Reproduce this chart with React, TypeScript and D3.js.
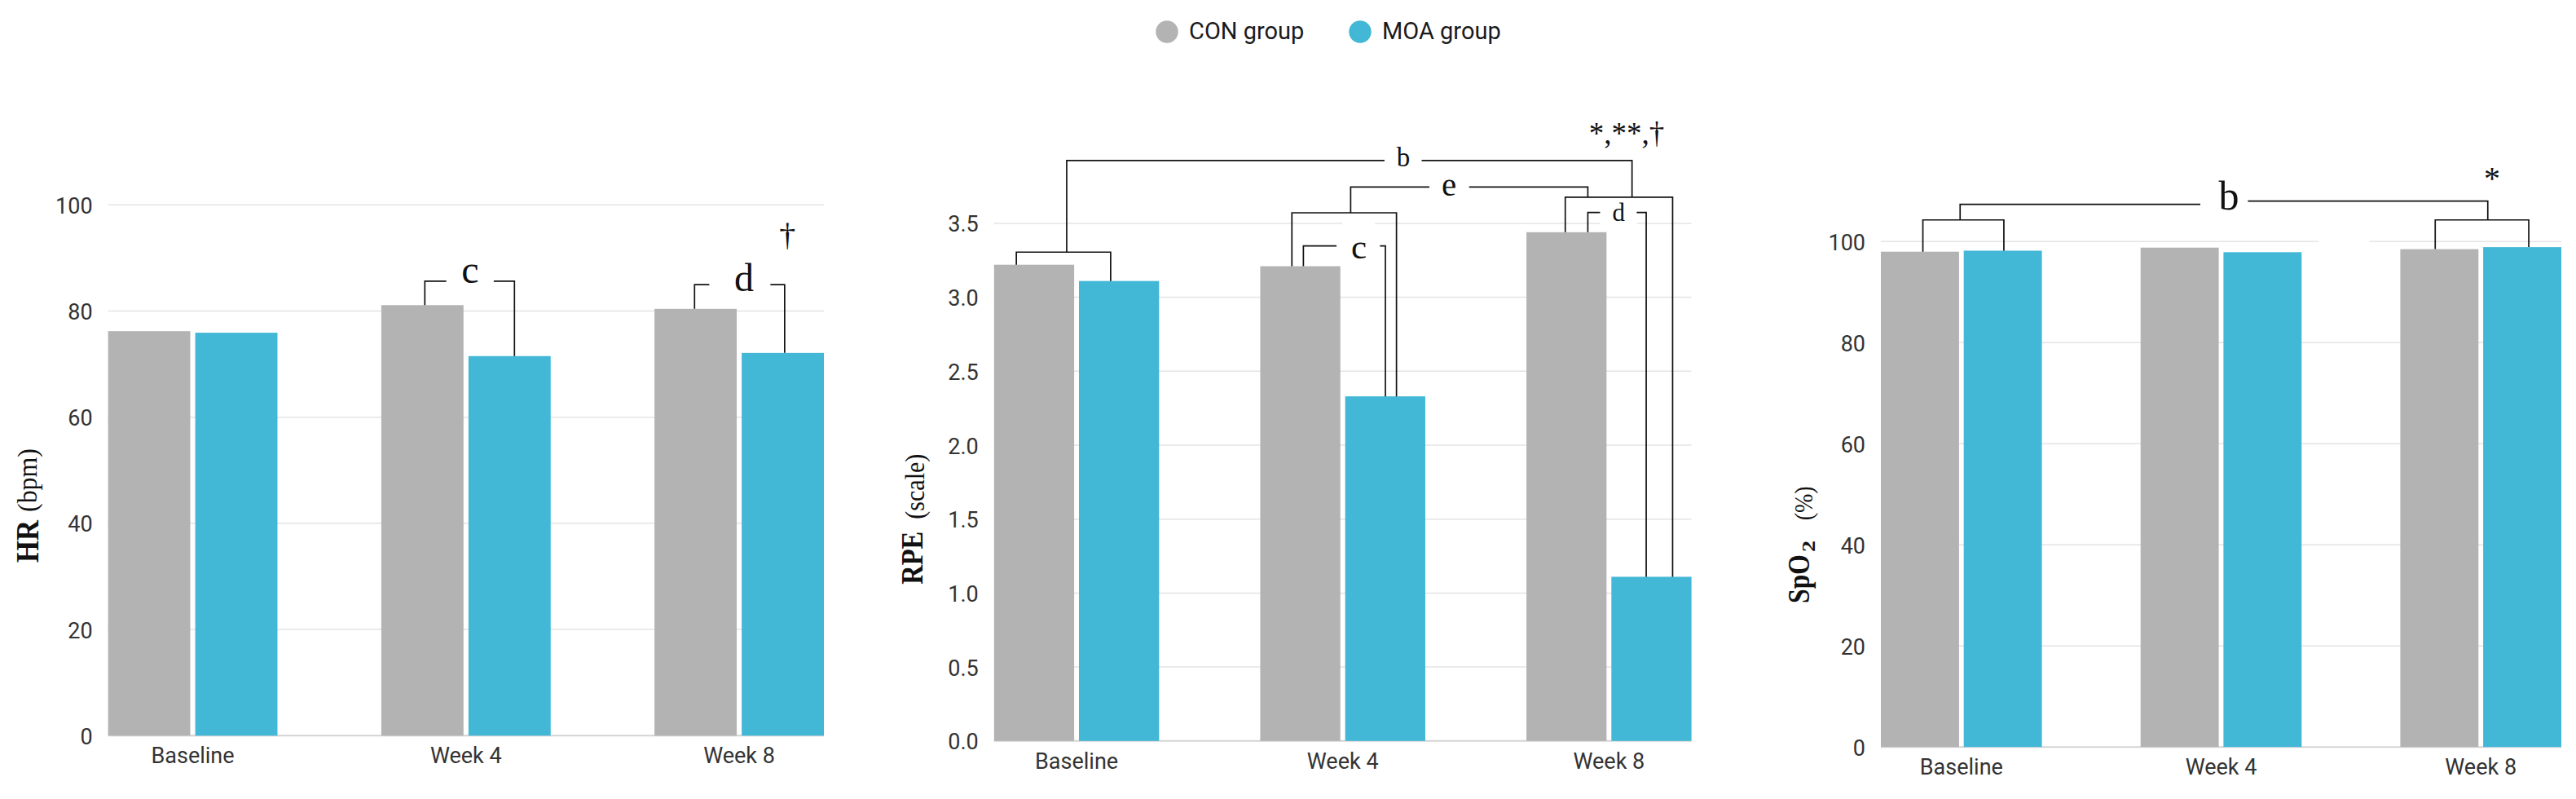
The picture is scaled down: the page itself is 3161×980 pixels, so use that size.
import React from "react";
import * as d3 from "d3";

// ---------- data ----------
const categories = ["Baseline", "Week 4", "Week 8"];
const groups = ["CON group", "MOA group"];
const groupColors = ["#b3b3b3", "#42b7d6"];

const hrCON = [76.2, 81.1, 80.4];
const hrMOA = [75.9, 71.5, 72.1];
const rpeCON = [3.22, 3.21, 3.44];
const rpeMOA = [3.11, 2.33, 1.11];
const spoCON = [98.0, 98.8, 98.5];
const spoMOA = [98.2, 97.9, 98.9];

const hrTicks = [0, 20, 40, 60, 80, 100];
const rpeTicks = [0, 0.5, 1, 1.5, 2, 2.5, 3, 3.5];
const spoTicks = [0, 20, 40, 60, 80, 100];

// annotation point: [category, series, dx(px), value | "top"]
type P = [number, number, number, number | "top"];

const hrLines: P[][] = [
  [[1, 0, 3, "top"], [1, 0, 3, 85.6], [1, 0, 29.3, 85.6]],
  [[1, 1, -19.4, 85.6], [1, 1, 6, 85.6], [1, 1, 6, "top"]],
  [[2, 0, -1.3, "top"], [2, 0, -1.3, 84.95], [2, 0, 16.8, 84.95]],
  [[2, 1, -15.2, 84.95], [2, 1, 2.3, 84.95], [2, 1, 2.3, "top"]],
];
const hrLabels = [
  { t: "c", c: 1, s: 0, dx: 58.6, v: 85.33, size: 48 },
  { t: "d", c: 2, s: 0, dx: 59.3, v: 83.8, size: 48 },
  { t: "†", c: 2, s: 1, dx: 5.8, v: 92.35, size: 40 },
];

const rpeLines: P[][] = [
  [[0, 0, -21.8, "top"], [0, 0, -21.8, 3.305], [0, 1, -10.3, 3.305], [0, 1, -10.3, "top"]],
  [[0, 0, 40, 3.305], [0, 0, 40, 3.925], [1, 1, -0.9, 3.925]],
  [[1, 1, 44.7, 3.925], [2, 1, -23.8, 3.925], [2, 1, -23.8, 3.677]],
  [[2, 0, -1.5, "top"], [2, 0, -1.5, 3.677], [2, 1, 26, 3.677], [2, 1, 26, "top"]],
  [[1, 0, -10.3, "top"], [1, 0, -10.3, 3.571], [1, 1, 13.8, 3.571], [1, 1, 13.8, "top"]],
  [[1, 0, 61.8, 3.571], [1, 0, 61.8, 3.746], [1, 1, 54.2, 3.746]],
  [[1, 1, 102.9, 3.746], [2, 0, 26.2, 3.746], [2, 0, 26.2, 3.677]],
  [[2, 0, 26.2, "top"], [2, 0, 26.2, 3.573], [2, 0, 41.2, 3.573]],
  [[2, 1, -18.1, 3.573], [2, 1, -6.4, 3.573], [2, 1, -6.4, "top"]],
  [[1, 0, 3.8, "top"], [1, 0, 3.8, 3.347], [1, 0, 44.5, 3.347]],
  [[1, 1, -6.5, 3.347], [1, 1, 0.2, 3.347], [1, 1, 0.2, "top"]],
];
const rpeLabels = [
  { t: "b", c: 1, s: 1, dx: 22.2, v: 3.885, size: 33 },
  { t: "e", c: 1, s: 1, dx: 78.2, v: 3.687, size: 41 },
  { t: "c", c: 1, s: 0, dx: 72, v: 3.264, size: 43 },
  { t: "d", c: 2, s: 0, dx: 63.9, v: 3.518, size: 31 },
  { t: "*,**,†", c: 2, s: 0, dx: 73.7, v: 4.04, size: 37 },
];
const rpeBgs = [
  { c: 1, s: 0, dx: 71.5, w: 40, v1: 3.544, v2: 3.246 },
  { c: 2, s: 0, dx: 63.9, w: 45, v1: 3.648, v2: 3.466 },
];

const spoLines: P[][] = [
  [[0, 0, 3.6, "top"], [0, 0, 3.6, 104.28], [0, 1, 1.3, 104.28], [0, 1, 1.3, "top"]],
  [[0, 0, 49.3, 104.28], [0, 0, 49.3, 107.37], [1, 0, 25.4, 107.37]],
  [[1, 1, -18, 108.0], [2, 1, -42.3, 108.0], [2, 1, -42.3, 104.28]],
  [[2, 0, -5.1, "top"], [2, 0, -5.1, 104.28], [2, 1, 8, 104.28], [2, 1, 8, "top"]],
];
const spoLabels = [
  { t: "b", c: 1, s: 0, dx: 60.4, v: 106.4, size: 50 },
  { t: "*", c: 2, s: 1, dx: -37.1, v: 110.4, size: 40 },
];
const spoBgs = [{ c: 1, s: 1, dx: 100, w: 62, v1: 101, v2: 99 }];

// axis-title pieces (rotated): text, bold, font size, baseline x, start y (bottom), length
const hrTitle = [
  { t: "HR", bold: true, size: 40, x: 46.5, y: 690, len: 52 },
  { t: "(bpm)", bold: false, size: 34, x: 45, y: 628, len: 78 },
];
const rpeTitle = [
  { t: "RPE", bold: true, size: 38, x: 1131.7, y: 716.7, len: 65 },
  { t: "(scale)", bold: false, size: 34, x: 1134, y: 636.7, len: 80 },
];
const spoTitle = [
  { t: "SpO", bold: true, size: 37, x: 2220, y: 740, len: 60 },
  { t: "2", bold: true, size: 24, x: 2226.5, y: 677, len: 14 },
  { t: "(%)", bold: false, size: 32, x: 2224, y: 638.3, len: 42 },
];

const panels = [
  {
    key: "hr", left: 132.6, right: 1011, y0: 902.3, yTop: 251.2, top: 100,
    ticks: hrTicks, fmt: d3.format("d"), values: [hrCON, hrMOA],
    title: hrTitle, lines: hrLines, labels: hrLabels, bgs: [] as any[],
  },
  {
    key: "rpe", left: 1219.8, right: 2075.6, y0: 908.8, yTop: 273.9, top: 3.5,
    ticks: rpeTicks, fmt: d3.format(".1f"), values: [rpeCON, rpeMOA],
    title: rpeTitle, lines: rpeLines, labels: rpeLabels, bgs: rpeBgs,
  },
  {
    key: "spo", left: 2308, right: 3143, y0: 916.2, yTop: 296.3, top: 100,
    ticks: spoTicks, fmt: d3.format("d"), values: [spoCON, spoMOA],
    title: spoTitle, lines: spoLines, labels: spoLabels, bgs: spoBgs,
  },
];

const SANS = "Roboto, 'Open Sans', sans-serif";
const SERIF = "'Liberation Serif', 'Times New Roman', serif";

function Panel({ cfg }: { cfg: any }) {
  const x = d3.scaleBand<string>().domain(categories).range([cfg.left, cfg.right]).paddingInner(0.38).paddingOuter(0);
  const xs = d3.scaleBand<string>().domain(groups).range([0, x.bandwidth()]).paddingInner(0.057);
  const y = d3.scaleLinear().domain([0, cfg.top]).range([cfg.y0, cfg.yTop]);
  const cx = (c: number, s: number) => (x(categories[c]) as number) + (xs(groups[s]) as number) + xs.bandwidth() / 2;
  const pt = (p: P): [number, number] => {
    const [c, s, dx, v] = p;
    return [cx(c, s) + dx, v === "top" ? y(cfg.values[s][c]) : y(v as number)];
  };
  const line = d3.line();

  return (
    <g>
      {cfg.ticks.map((t: number) => (
        <line key={"g" + t} x1={cfg.left} x2={cfg.right} y1={y(t)} y2={y(t)}
          stroke={t === 0 ? "#d4d4d4" : "#e4e4e4"} strokeWidth={t === 0 ? 2 : 1.5} />
      ))}
      {cfg.ticks.map((t: number) => (
        <text key={"t" + t} x={cfg.left - 19} y={y(t) + 1.5} textAnchor="end" dominantBaseline="central"
          fontFamily={SANS} fontSize={27} fill="#333">{cfg.fmt(t)}</text>
      ))}
      {categories.map((cat, c) =>
        groups.map((g, s) => {
          const v = cfg.values[s][c];
          return (
            <rect key={cat + g} x={(x(cat) as number) + (xs(g) as number)} y={y(v)}
              width={xs.bandwidth()} height={y(0) - y(v)} fill={groupColors[s]} />
          );
        })
      )}
      {categories.map((cat) => (
        <text key={"x" + cat} x={(x(cat) as number) + x.bandwidth() / 2} y={cfg.y0 + 34}
          textAnchor="middle" fontFamily={SANS} fontSize={27} fill="#333">{cat}</text>
      ))}
      {cfg.bgs.map((b: any, i: number) => (
        <rect key={"bg" + i} x={cx(b.c, b.s) + b.dx - b.w / 2} y={y(b.v1)} width={b.w}
          height={y(b.v2) - y(b.v1)} fill="#fff" />
      ))}
      {cfg.lines.map((l: P[], i: number) => (
        <path key={"l" + i} d={line(l.map(pt)) as string} fill="none" stroke="#111"
          strokeWidth={1.7} strokeLinejoin="miter" />
      ))}
      {cfg.labels.map((lb: any, i: number) => (
        <text key={"lb" + i} x={cx(lb.c, lb.s) + lb.dx} y={y(lb.v)} textAnchor="middle"
          fontFamily={SERIF} fontSize={lb.size} fill="#111">{lb.t}</text>
      ))}
      {cfg.title.map((p: any, i: number) => (
        <text key={"ti" + i} transform={`translate(${p.x},${p.y}) rotate(-90)`} textAnchor="start"
          fontFamily={SERIF} fontWeight={p.bold ? "bold" : "normal"} fontSize={p.size} fill="#111"
          textLength={p.len} lengthAdjust="spacingAndGlyphs">{p.t}</text>
      ))}
    </g>
  );
}

export default function App() {
  const legendX = [1432, 1669];
  return (
    <svg width={3161} height={980} style={{ position: "absolute", left: 0, top: 0, background: "#fff" }}>
      <rect x={0} y={0} width={3161} height={980} fill="#fff" />
      {groups.map((g, i) => (
        <g key={g}>
          <circle cx={legendX[i]} cy={39} r={13.7} fill={groupColors[i]} />
          <text x={legendX[i] + 27} y={47.5} fontFamily={SANS} fontSize={29} fill="#1a1a1a">{g}</text>
        </g>
      ))}
      {panels.map((p) => (
        <Panel key={p.key} cfg={p} />
      ))}
    </svg>
  );
}
